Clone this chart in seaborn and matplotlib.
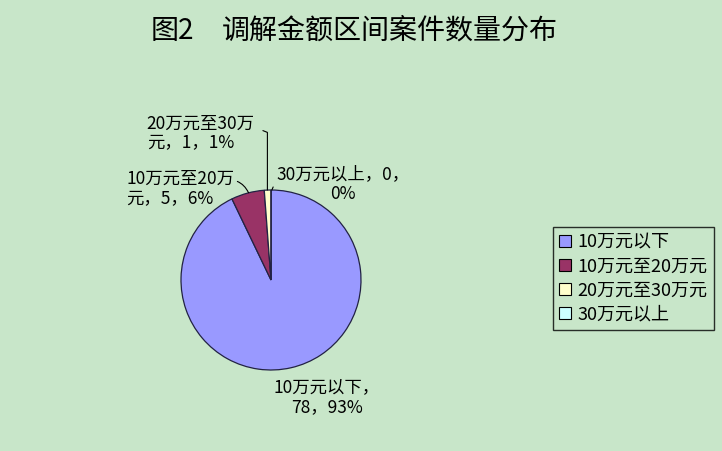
import numpy as np
import pandas as pd
import matplotlib
matplotlib.use("Agg")
import matplotlib.pyplot as plt
import seaborn as sns

categories = ['10万元以下', '10万元至20万元', '20万元至30万元', '30万元以上']
counts = [78, 5, 1, 0]
percents = ['93%', '6%', '1%', '0%']
colors = ['#9999FF', '#993366', '#FFFFCC', '#CCFFFF']
bg = '#C8E6C9'

sns.set_theme(style='white')
plt.rcParams['font.family'] = ['Noto Sans CJK SC', 'DejaVu Sans']
plt.rcParams['text.color'] = 'black'

fig = plt.figure(figsize=(7.22, 4.51), dpi=100, facecolor=bg)
fig.text(151 / 722, 1 - 31 / 451, '图2', ha='left', va='center', fontsize=20.2)
fig.text(222 / 722, 1 - 31 / 451, '调解金额区间案件数量分布', ha='left', va='center', fontsize=20.2)

# pie axes: centre ~ (271, 280) px, radius ~ 90 px
ax = fig.add_axes([181 / 722, (451 - 370) / 451, 180 / 722, 180 / 451])
ax.set_facecolor(bg)
df = pd.DataFrame({'cat': categories, 'n': counts, 'pct': percents})
wedges, _ = ax.pie(df['n'], colors=colors, startangle=90, counterclock=False, radius=1,
                   wedgeprops=dict(edgecolor='#222244', linewidth=0.9))
ax.set_xlim(-1, 1)
ax.set_ylim(-1, 1)
ax.set_aspect('equal')
ax.axis('off')

# data labels
lab = [f'{c}，\n{n}，{p}' for c, n, p in zip(df['cat'], df['n'], df['pct'])]
lab[1] = '10万元至20万\n元，5，6%'
lab[2] = '20万元至30万\n元，1，1%'
lab[3] = '30万元以上，0，\n0%'
kw = dict(fontsize=12.5, annotation_clip=False, linespacing=1.15)
line = dict(arrowstyle='-', color='black', lw=0.8, shrinkA=0, shrinkB=0)
ax.annotate(lab[0], xy=(0.62, -1.30), ha='center', va='center', **kw)
ax.annotate(lab[1], xy=(-0.25, 0.97), xytext=(-1.61, 1.01), ha='left', va='center',
            arrowprops=dict(line, relpos=(0.95, 0.75), connectionstyle='arc3,rad=-0.3'), **kw)
ax.annotate(lab[2], xy=(-0.04, 1.0), xytext=(-1.38, 1.63), ha='left', va='center', **kw)
ax.plot([-0.04, -0.04, -0.09], [1.0, 1.64, 1.66], color='black', lw=0.8, clip_on=False)
ax.annotate(lab[3], xy=(0.01, 1.0), xytext=(0.80, 1.07), ha='center', va='center',
            arrowprops=dict(line, relpos=(0.0, 0.62)), **kw)

leg = fig.legend(wedges, categories, loc='upper left', bbox_to_anchor=(553 / 722, 1 - 227 / 451),
                 frameon=True, fontsize=13, handlelength=0.65, handleheight=0.65,
                 handletextpad=0.35, labelspacing=0.33, borderpad=0.35, borderaxespad=0,
                 fancybox=False)
leg.get_frame().set_edgecolor('black')
leg.get_frame().set_facecolor(bg)
leg.get_frame().set_linewidth(1.0)
for h in leg.legend_handles:
    h.set_edgecolor('black')
    h.set_linewidth(0.8)

fig.savefig('out.png', dpi=100, facecolor=bg)
